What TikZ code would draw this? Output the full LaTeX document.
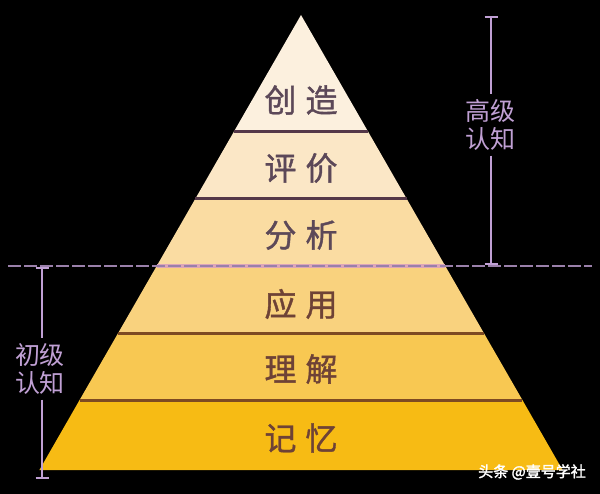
\documentclass[tikz,border=0pt]{standalone}
\usepackage{fontspec}
\newfontfamily\cjk{Noto Sans CJK SC}
\newfontfamily\cjkfb[FakeBold=1.2]{Noto Sans CJK SC}
\newfontfamily\cjkwm[FakeBold=2]{Noto Sans CJK SC}
\definecolor{cA}{HTML}{FCF0DE}
\definecolor{cB}{HTML}{FBE7C6}
\definecolor{cC}{HTML}{FADCA2}
\definecolor{cD}{HTML}{F9D27E}
\definecolor{cE}{HTML}{F8C852}
\definecolor{cF}{HTML}{F7BB14}
\definecolor{sepTop}{HTML}{553848}
\definecolor{sepBot}{HTML}{7E4A22}
\definecolor{txtTop}{HTML}{5C4858}
\definecolor{txtBot}{HTML}{6E4236}
\definecolor{barc}{HTML}{C0A0D4}
\definecolor{bandc}{HTML}{DDA6B8}
\begin{document}
\begin{tikzpicture}[x=1pt,y=-1pt,
  lvl/.style={font=\cjkfb\fontsize{32}{34}\selectfont, inner sep=0pt},
  sepline/.style={line width=3pt},
  bar/.style={draw=barc, line width=1.4pt},
  barlab/.style={font=\cjk\fontsize{25}{28}\selectfont, text=barc, align=center, inner sep=5pt}]
\fill[black] (0,0) rectangle (600,494);
\useasboundingbox (0,0) rectangle (600,494);
% layers
\fill[cA] (301,15) -- (368.3,132) -- (233.7,132) -- cycle;
\fill[cB] (233.7,132) -- (368.3,132) -- (406.8,199) -- (195.2,199) -- cycle;
\fill[cC] (195.2,199) -- (406.8,199) -- (445.3,266) -- (156.7,266) -- cycle;
\fill[cD] (156.7,266) -- (445.3,266) -- (484.4,334) -- (117.6,334) -- cycle;
\fill[cE] (117.6,334) -- (484.4,334) -- (522.4,400) -- (79.6,400) -- cycle;
\fill[cF] (79.6,400) -- (522.4,400) -- (562.6,470) -- (39.4,470) -- cycle;
% separators
\draw[sepline, sepTop] (233.7,132) -- (368.3,132);
\draw[sepline, sepTop] (195.2,199) -- (406.8,199);
\draw[sepline, sepBot] (117.6,334) -- (484.4,334);
\draw[sepline, sepBot] (79.6,400) -- (522.4,400);
% dashed boundary
\draw[line width=4pt, draw=bandc] (156.7,266) -- (445.3,266);
\draw[line width=1.2pt, draw=barc!80!black, dash pattern=on 13pt off 3pt] (8,266) -- (592,266);
% labels
\node[lvl, text=txtTop] (l1) at (301,100) {创\hspace{9pt}造};
\node[lvl, text=txtTop] (l2) at (301,168) {评\hspace{9pt}价};
\node[lvl, text=txtTop] (l3) at (301,235) {分\hspace{9pt}析};
\node[lvl, text=txtBot] (l4) at (301,304) {应\hspace{9pt}用};
\node[lvl, text=txtBot] (l5) at (301,369) {理\hspace{9pt}解};
\node[lvl, text=txtBot] (l6) at (301,438) {记\hspace{9pt}忆};
% right bar
\coordinate (rt) at (491,17);
\coordinate (rb) at (491,264);
\node[barlab] (hi) at (490,125) {高级\\认知};
\draw[bar] (rt) -- (rt |- hi.north);
\draw[bar] (rb |- hi.south) -- (rb);
\draw[bar] ([xshift=-6.5pt]rt) -- ([xshift=6.5pt]rt);
\draw[bar] ([xshift=-6.5pt]rb) -- ([xshift=6.5pt]rb);
% left bar
\coordinate (lt) at (42,268);
\coordinate (lb) at (42,478);
\node[barlab] (lo) at (40,369) {初级\\认知};
\draw[bar] (lt) -- (lt |- lo.north);
\draw[bar] (lb |- lo.south) -- (lb);
\draw[bar] ([xshift=-6.5pt]lt) -- ([xshift=6.5pt]lt);
\draw[bar] ([xshift=-6.5pt]lb) -- ([xshift=6.5pt]lb);
% watermark
\node[font=\cjkwm\fontsize{15}{17}\selectfont, text=white, anchor=east, inner sep=0pt] (wm) at (586,472) {头条 @壹号学社};
\end{tikzpicture}
\end{document}
